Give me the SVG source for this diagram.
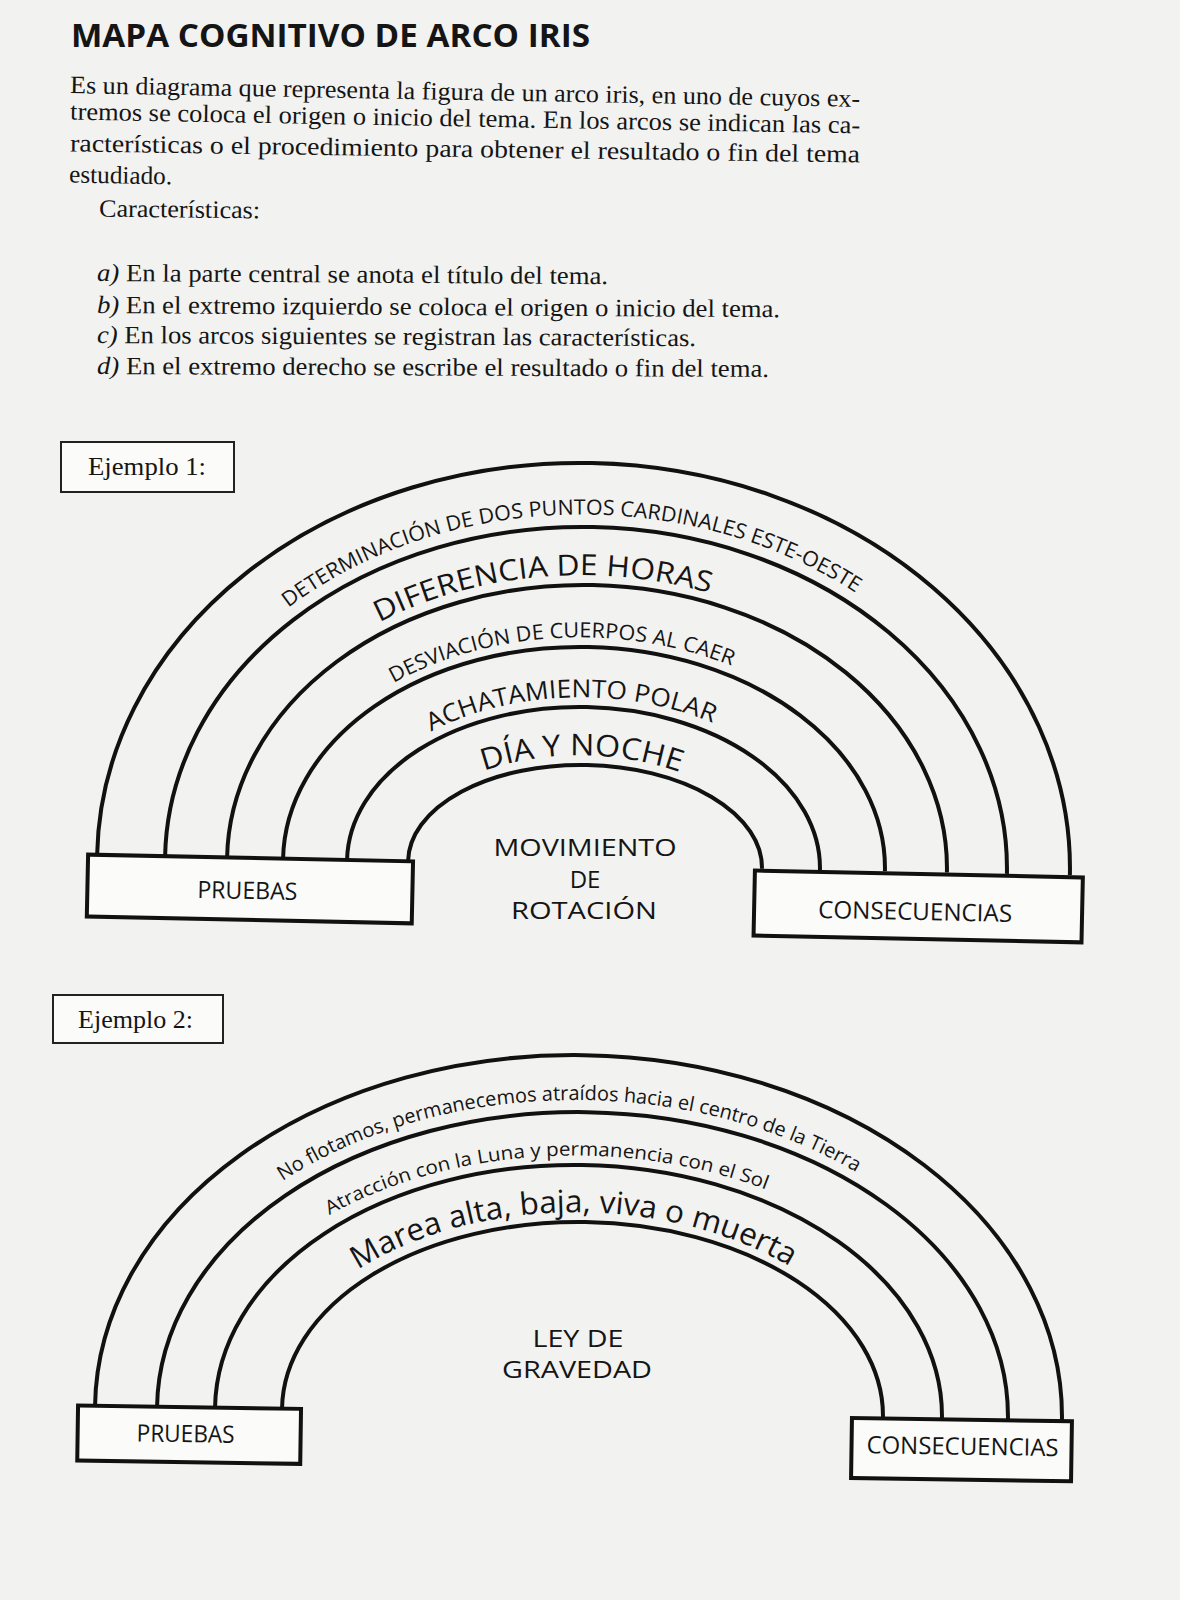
<svg xmlns="http://www.w3.org/2000/svg" width="1180" height="1600" viewBox="0 0 1180 1600">
<defs>
<style>
.bg{fill:#f2f2f0}
.serif{font-family:"Liberation Serif","Times New Roman",serif;fill:#151515}
.sans{font-family:"Open Sans","Noto Sans","Liberation Sans",sans-serif;fill:#151515}
.arc{fill:none;stroke:#111;stroke-width:4;stroke-linecap:butt}
.box{fill:#fbfbfa;stroke:#111;stroke-width:4}
.lbl{fill:#fbfbfa;stroke:#222;stroke-width:2}
</style>
<path id="p1" d="M 283.1 614.1 A 433 350 0 0 1 855.0 590.5"/>
<path id="p2" d="M 374.4 626.6 A 370 290 0 0 1 707.0 591.5"/>
<path id="p3" d="M 389.9 687.1 A 312 228 0 0 1 733.0 665.0"/>
<path id="p4" d="M 428.3 734.8 A 248 168 0 0 1 716.0 723.0"/>
<path id="p5" d="M 482.1 773.0 A 188 110 0 0 1 681.5 771.5"/>
<path id="q1" d="M 279.3 1185.4 A 438 313 0 0 1 861.0 1173.0"/>
<path id="q2" d="M 326.6 1218.7 A 385 258 0 0 1 767.0 1188.5"/>
<path id="q3" d="M 356.1 1273.0 A 312 201 0 0 1 796.0 1268.5"/>
</defs>
<rect class="bg" x="0" y="0" width="1180" height="1600"/>

<g id="title">
<text class="sans" x="71" y="47" font-size="32" font-weight="bold" textLength="519" lengthAdjust="spacingAndGlyphs">MAPA COGNITIVO DE ARCO IRIS</text>
</g>

<g id="intro" class="serif" font-size="25">
<text x="70" y="100" transform="rotate(1 465 100)" textLength="790" lengthAdjust="spacingAndGlyphs">Es un diagrama que representa la figura de un arco iris, en uno de cuyos ex-</text>
<text x="70" y="126.5" transform="rotate(1 465 126.5)" textLength="790" lengthAdjust="spacingAndGlyphs">tremos se coloca el origen o inicio del tema. En los arcos se indican las ca-</text>
<text x="70" y="157" transform="rotate(0.8 465 157)" textLength="790" lengthAdjust="spacingAndGlyphs">racterísticas o el procedimiento para obtener el resultado o fin del tema</text>
<text x="69" y="183.5" transform="rotate(1 120 183.5)" textLength="103" lengthAdjust="spacingAndGlyphs">estudiado.</text>
<text x="99" y="217.5" transform="rotate(0.6 180 217.5)" textLength="161" lengthAdjust="spacingAndGlyphs">Características:</text>
<text x="97" y="281" transform="rotate(0.35 97 281)" textLength="511" lengthAdjust="spacingAndGlyphs"><tspan font-style="italic">a)</tspan> En la parte central se anota el título del tema.</text>
<text x="97" y="313" transform="rotate(0.35 97 313)" textLength="683" lengthAdjust="spacingAndGlyphs"><tspan font-style="italic">b)</tspan> En el extremo izquierdo se coloca el origen o inicio del tema.</text>
<text x="97" y="343" transform="rotate(0.3 97 343)" textLength="599" lengthAdjust="spacingAndGlyphs"><tspan font-style="italic">c)</tspan> En los arcos siguientes se registran las características.</text>
<text x="97" y="374" transform="rotate(0.25 97 374)" textLength="672" lengthAdjust="spacingAndGlyphs"><tspan font-style="italic">d)</tspan> En el extremo derecho se escribe el resultado o fin del tema.</text>
</g>

<g id="ejemplo1-label">
<rect class="lbl" x="61" y="442" width="173" height="50"/>
<text class="serif" x="88" y="475" font-size="26" textLength="118" lengthAdjust="spacingAndGlyphs">Ejemplo 1:</text>
</g>

<g id="ejemplo1" transform="rotate(1.2 585 865)">
<g id="ex1-arcs">
<path class="arc" d="M 97 865 A 486.5 402 0 0 1 1070 865"/>
<path class="arc" d="M 165 865 A 421 338 0 0 1 1007 865"/>
<path class="arc" d="M 227 865 A 360 280 0 0 1 947 865"/>
<path class="arc" d="M 283 865 A 301 218 0 0 1 885 865"/>
<path class="arc" d="M 347 865 A 236.5 158 0 0 1 820 865"/>
<path class="arc" d="M 408 865 A 177 100 0 0 1 762 865"/>
</g>
<g id="ex1-band1"><text class="sans" font-size="21"><textPath href="#p1" textLength="602" lengthAdjust="spacingAndGlyphs">DETERMINACIÓN DE DOS PUNTOS CARDINALES ESTE-OESTE</textPath></text></g>
<g id="ex1-band2"><text class="sans" font-size="29"><textPath href="#p2" textLength="339" lengthAdjust="spacingAndGlyphs">DIFERENCIA DE HORAS</textPath></text></g>
<g id="ex1-band3"><text class="sans" font-size="21"><textPath href="#p3" textLength="349" lengthAdjust="spacingAndGlyphs">DESVIACIÓN DE CUERPOS AL CAER</textPath></text></g>
<g id="ex1-band4"><text class="sans" font-size="25"><textPath href="#p4" textLength="290" lengthAdjust="spacingAndGlyphs">ACHATAMIENTO POLAR</textPath></text></g>
<g id="ex1-band5"><text class="sans" font-size="30"><textPath href="#p5" textLength="199" lengthAdjust="spacingAndGlyphs">DÍA Y NOCHE</textPath></text></g>
<g id="ex1-pruebas">
<rect class="box" x="88" y="865" width="325" height="62"/>
<text class="sans" x="248" y="906" font-size="24" text-anchor="middle" textLength="100" lengthAdjust="spacingAndGlyphs">PRUEBAS</text>
</g>
<g id="ex1-consecuencias">
<rect class="box" x="755" y="867" width="328" height="65"/>
<text class="sans" x="916" y="913" font-size="24" text-anchor="middle" textLength="194" lengthAdjust="spacingAndGlyphs">CONSECUENCIAS</text>
</g>
</g>

<g id="ex1-center" class="sans" font-size="24" text-anchor="middle">
<text x="585" y="856" textLength="183" lengthAdjust="spacingAndGlyphs">MOVIMIENTO</text>
<text x="585" y="888">DE</text>
<text x="584" y="919" textLength="146" lengthAdjust="spacingAndGlyphs">ROTACIÓN</text>
</g>

<g id="ejemplo2-label">
<rect class="lbl" x="53" y="995" width="170" height="48"/>
<text class="serif" x="78" y="1028" font-size="26" textLength="115" lengthAdjust="spacingAndGlyphs">Ejemplo 2:</text>
</g>

<g id="ejemplo2" transform="rotate(0.85 580 1413)">
<g id="ex2-arcs">
<path class="arc" d="M 95 1413 A 483.5 358 0 0 1 1062 1413"/>
<path class="arc" d="M 157 1413 A 425.5 301 0 0 1 1008 1413"/>
<path class="arc" d="M 215 1413 A 363.5 248 0 0 1 942 1413"/>
<path class="arc" d="M 282 1413 A 300.5 191 0 0 1 883 1413"/>
</g>
<g id="ex2-band1"><text class="sans" font-size="20"><textPath href="#q1" textLength="601" lengthAdjust="spacingAndGlyphs">No flotamos, permanecemos atraídos hacia el centro de la Tierra</textPath></text></g>
<g id="ex2-band2"><text class="sans" font-size="19"><textPath href="#q2" textLength="450" lengthAdjust="spacingAndGlyphs">Atracción con la Luna y permanencia con el Sol</textPath></text></g>
<g id="ex2-band3"><text class="sans" font-size="31"><textPath href="#q3" textLength="451" lengthAdjust="spacingAndGlyphs">Marea alta, baja, viva o muerta</textPath></text></g>
<g id="ex2-pruebas">
<rect class="box" x="78" y="1413" width="223" height="55"/>
<text class="sans" x="186" y="1448" font-size="24" text-anchor="middle" textLength="98" lengthAdjust="spacingAndGlyphs">PRUEBAS</text>
</g>
<g id="ex2-consecuencias">
<rect class="box" x="852" y="1414" width="220" height="60"/>
<text class="sans" x="963" y="1449" font-size="24" text-anchor="middle" textLength="192" lengthAdjust="spacingAndGlyphs">CONSECUENCIAS</text>
</g>
</g>

<g id="ex2-center" class="sans" font-size="24" text-anchor="middle">
<text x="578" y="1347" textLength="91" lengthAdjust="spacingAndGlyphs">LEY DE</text>
<text x="577" y="1378" textLength="150" lengthAdjust="spacingAndGlyphs">GRAVEDAD</text>
</g>
</svg>
